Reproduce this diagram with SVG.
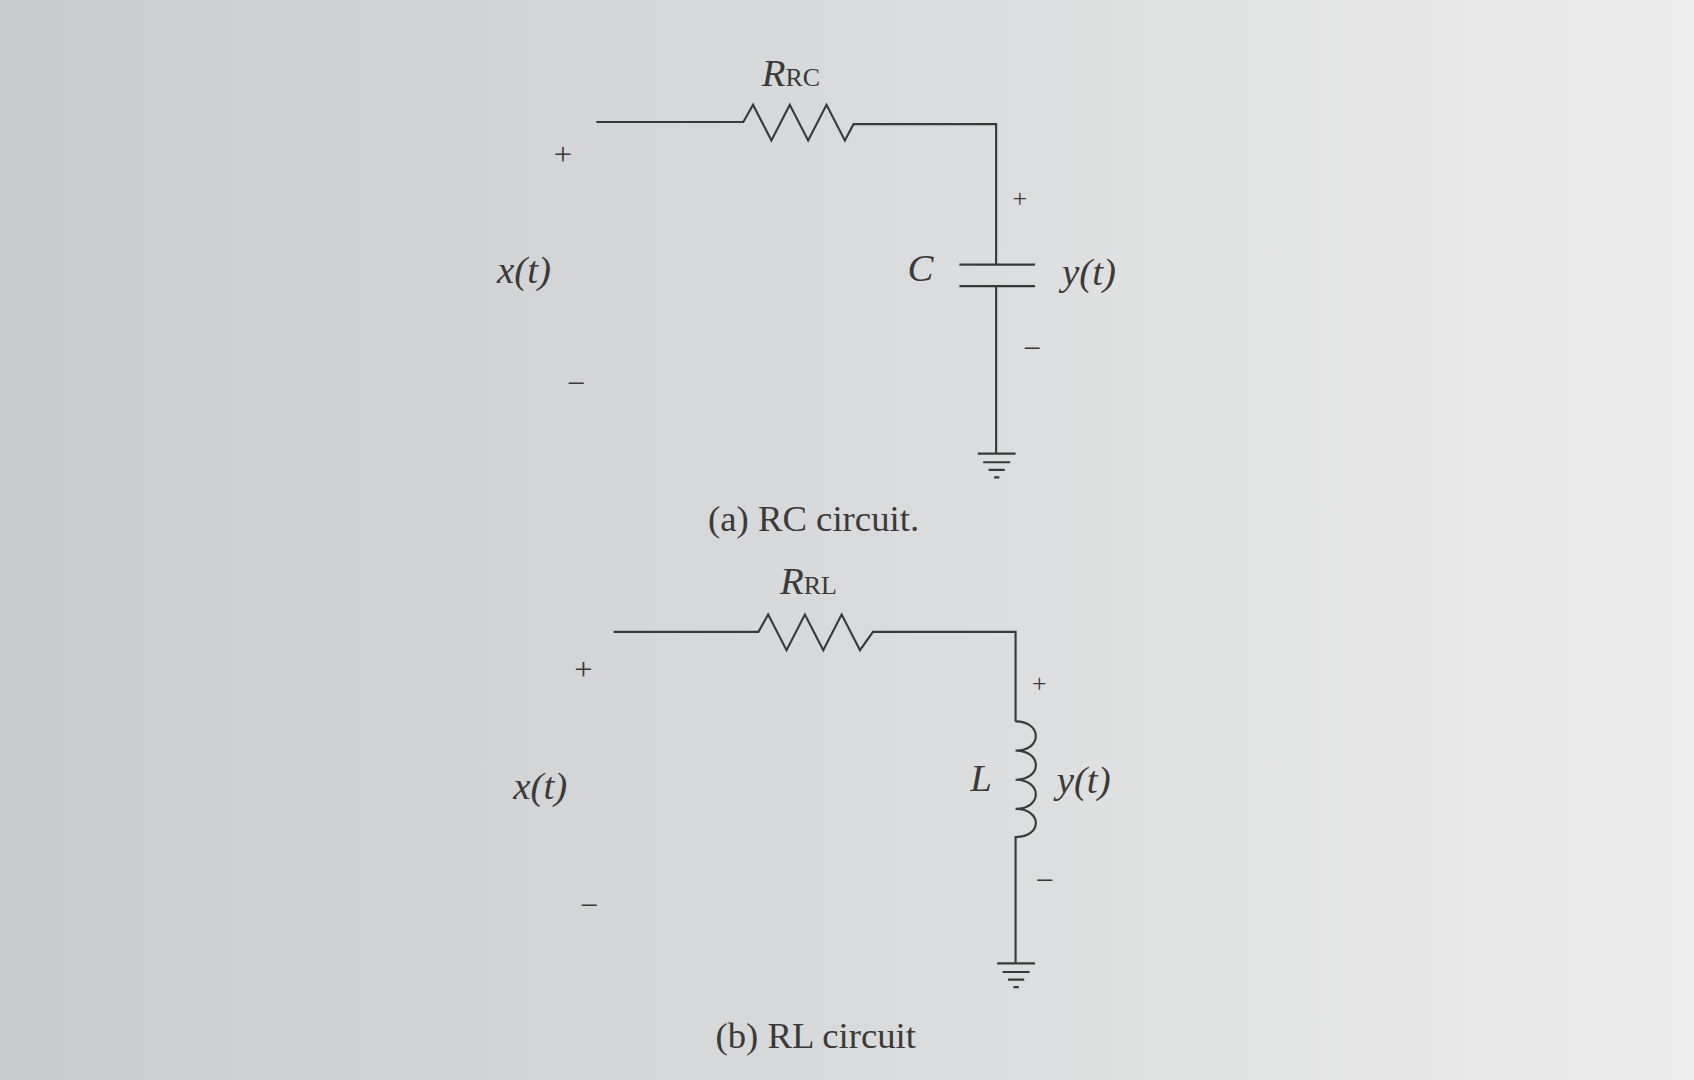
<svg xmlns="http://www.w3.org/2000/svg" width="1694" height="1080" viewBox="0 0 1694 1080">
<defs>
<linearGradient id="bg" x1="0" y1="0" x2="1" y2="0">
<stop offset="0" stop-color="#c9cbcd"/><stop offset="0.5" stop-color="#d9dadb"/><stop offset="1" stop-color="#ececec"/>
</linearGradient>
<style>
.w{fill:none;stroke:#3a3a3a;stroke-width:2}
.t{font-family:"Liberation Serif",serif;fill:#3a3a3a}
.m{font-style:italic;font-size:36px}
.s{font-size:30px}
.c{font-size:34px}
</style>
</defs>
<rect width="1694" height="1080" fill="url(#bg)"/>
<g transform="scale(1.0804,1.08)">
<g id="connectors">
<path class="w" d="M552 113H688L697 97L714 130L731 97L748 130L765 97L782 130L790 115H922V245"/>
<path class="w" d="M888 245H958M888 265H958"/>
<path class="w" d="M922 265V420M905 420H940M910 428H935M915 435H930M920 442H925"/>
<path class="w" d="M568 585H702L711 569L728 602L745 569L762 602L779 569L796 602L808 585H940V668"/>
<path class="w" d="M940 668C965 668 965 695 940 695C965 695 965 722 940 722C965 722 965 749 940 749C965 749 965 775 940 775V892"/>
<path class="w" d="M923 892H958M928 900H953M933 907H948M938 914H943"/>
</g>
<g id="rc">
<text class="t m" x="705" y="80">R<tspan font-size="24" font-style="normal">RC</tspan></text>
<text class="t s" x="521" y="153" text-anchor="middle">+</text>
<text class="t m" x="485" y="262" text-anchor="middle">x(t)</text>
<text class="t s" x="533" y="365" text-anchor="middle">−</text>
<text class="t" font-size="24" x="944" y="192" text-anchor="middle">+</text>
<text class="t m" x="852" y="260" text-anchor="middle">C</text>
<text class="t m" x="1008" y="264" text-anchor="middle">y(t)</text>
<text class="t s" x="955" y="332" text-anchor="middle">−</text>
<text class="t c" x="753" y="492" text-anchor="middle">(a) RC circuit.</text>
</g>
<g id="rl">
<text class="t m" x="722" y="550">R<tspan font-size="24" font-style="normal">RL</tspan></text>
<text class="t s" x="540" y="630" text-anchor="middle">+</text>
<text class="t m" x="500" y="740" text-anchor="middle">x(t)</text>
<text class="t s" x="545" y="848" text-anchor="middle">−</text>
<text class="t" font-size="24" x="962" y="641" text-anchor="middle">+</text>
<text class="t m" x="908" y="732" text-anchor="middle">L</text>
<text class="t m" x="1003" y="734" text-anchor="middle">y(t)</text>
<text class="t s" x="967" y="825" text-anchor="middle">−</text>
<text class="t c" x="755" y="970" text-anchor="middle">(b) RL circuit</text>
</g>
</g>
</svg>
